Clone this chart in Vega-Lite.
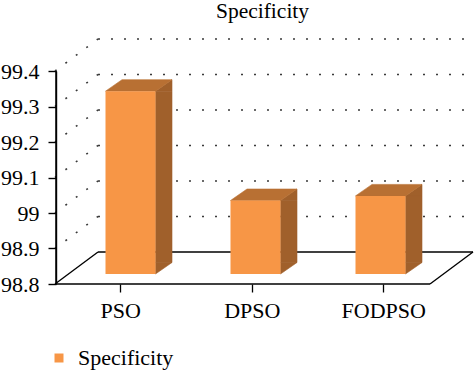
{
  "$schema": "https://vega.github.io/schema/vega-lite/v6.json",
  "width": 375,
  "height": 213,
  "autosize": {"type": "none"},
  "padding": {"left": 55, "top": 71, "right": 44, "bottom": 86},
  "background": "white",
  "title": {"text": "Specificity", "font": "Liberation Serif", "fontSize": 21.5, "fontWeight": "normal", "color": "#000", "anchor": "middle", "frame": "group", "dx": 20, "offset": 16},
  "datasets": {
    "bars": [
      {"method": "PSO", "value": 99.315},
      {"method": "DPSO", "value": 99.007},
      {"method": "FODPSO", "value": 99.02}
    ],
    "levels": [{"v": 98.8}, {"v": 98.9}, {"v": 99}, {"v": 99.1}, {"v": 99.2}, {"v": 99.3}, {"v": 99.4}]
  },
  "config": {
    "view": {"stroke": null},
    "font": "Liberation Serif"
  },
  "resolve": {"scale": {"x": "independent", "y": "independent"}},
  "layer": [
    {
      "layer": [
        {
          "data": {"name": "levels"},
          "transform": [{"filter": "datum.v > 98.85"}],
          "mark": {"type": "rule", "stroke": "#3a3a3a", "strokeWidth": 1.6, "strokeDash": [2, 11], "xOffset": 43, "x2Offset": 43, "yOffset": -32},
          "encoding": {
            "x": {"value": 0}, "x2": {"value": "width"},
            "y": {"field": "v", "type": "quantitative", "axis": null,
              "scale": {"domain": [98.8, 99.4], "nice": false, "zero": false}}
          }
        },
        {
          "data": {"name": "levels"},
          "transform": [{"filter": "datum.v > 98.85"}],
          "mark": {"type": "rule", "stroke": "#3a3a3a", "strokeWidth": 1.6, "strokeDash": [2, 11], "x2Offset": 43, "y2Offset": -32},
          "encoding": {
            "x": {"value": 0}, "x2": {"value": 0},
            "y": {"field": "v", "type": "quantitative", "axis": null}, "y2": {"field": "v"}
          }
        },
        {
          "data": {"name": "levels"},
          "transform": [{"filter": "datum.v < 98.85"}],
          "mark": {"type": "rule", "stroke": "#000", "strokeWidth": 1.4, "xOffset": 43, "x2Offset": 43, "yOffset": -32},
          "encoding": {
            "x": {"value": 0}, "x2": {"value": "width"},
            "y": {"field": "v", "type": "quantitative", "axis": null}
          }
        },
        {
          "data": {"name": "levels"},
          "transform": [{"filter": "datum.v < 98.85"}],
          "mark": {"type": "rule", "stroke": "#000", "strokeWidth": 1.4, "x2Offset": 43, "y2Offset": -32},
          "encoding": {
            "x": {"value": 0}, "x2": {"value": 0},
            "y": {"field": "v", "type": "quantitative", "axis": null}, "y2": {"field": "v"}
          }
        },
        {
          "data": {"name": "levels"},
          "transform": [{"filter": "datum.v < 98.85"}],
          "mark": {"type": "rule", "stroke": "#000", "strokeWidth": 1.4, "x2Offset": 43, "y2Offset": -32},
          "encoding": {
            "x": {"value": "width"}, "x2": {"value": "width"},
            "y": {"field": "v", "type": "quantitative", "axis": null}, "y2": {"field": "v"}
          }
        },
        {
          "data": {"name": "levels"},
          "transform": [{"filter": "datum.v < 98.85"}],
          "mark": {"type": "rule", "stroke": "#000", "strokeWidth": 1.4},
          "encoding": {
            "x": {"value": 0}, "x2": {"value": "width"},
            "y": {"field": "v", "type": "quantitative", "axis": null}
          }
        },
        {
          "data": {"name": "levels"},
          "transform": [{"filter": "datum.v < 98.85"}],
          "mark": {"type": "rule", "stroke": "#000", "strokeWidth": 1.5, "xOffset": 1, "x2Offset": 1},
          "encoding": {
            "x": {"value": 0}, "x2": {"value": 0},
            "y": {"field": "v", "type": "quantitative", "axis": null},
            "y2": {"datum": 99.4}
          }
        },
        {
          "data": {"name": "bars"},
          "mark": {"type": "bar", "width": 16.5, "xOffset": 46.25, "yOffset": -10, "y2Offset": -21.5, "fill": "#A0602B", "stroke": "#A0602B", "strokeWidth": 0.6},
          "encoding": {
            "x": {"field": "method", "type": "nominal", "sort": null, "scale": {"type": "band", "paddingInner": 0, "paddingOuter": 0}, "axis": null},
            "y": {"field": "value", "type": "quantitative", "axis": null},
            "y2": {"datum": 98.8}
          }
        },
        {
          "data": {"name": "bars"},
          "mark": {"type": "point", "shape": "M0,0L16.5,-11.5L16.5,0Z", "size": 4, "filled": true, "opacity": 1, "xOffset": 38, "yOffset": -10, "fill": "#A0602B", "stroke": "#A0602B", "strokeWidth": 0.6},
          "encoding": {
            "x": {"field": "method", "type": "nominal", "sort": null, "axis": null},
            "y": {"field": "value", "type": "quantitative", "axis": null}
          }
        },
        {
          "data": {"name": "bars"},
          "mark": {"type": "point", "shape": "M0,0L0,-11.5L16.5,-11.5Z", "size": 4, "filled": true, "opacity": 1, "xOffset": 38, "yOffset": -10, "fill": "#A0602B", "stroke": "#A0602B", "strokeWidth": 0.6},
          "encoding": {
            "x": {"field": "method", "type": "nominal", "sort": null, "axis": null},
            "y": {"datum": 98.8, "type": "quantitative", "axis": null}
          }
        },
        {
          "data": {"name": "bars"},
          "mark": {"type": "point", "shape": "M-25,0L25,0L41.5,-11.5L-8.5,-11.5Z", "size": 4, "filled": true, "opacity": 1, "xOffset": 13, "yOffset": -10, "fill": "#B87033", "stroke": "#B87033", "strokeWidth": 0.6},
          "encoding": {
            "x": {"field": "method", "type": "nominal", "sort": null, "axis": null},
            "y": {"field": "value", "type": "quantitative", "axis": null}
          }
        },
        {
          "data": {"name": "bars"},
          "mark": {"type": "bar", "width": 50, "xOffset": 13, "yOffset": -10, "y2Offset": -10},
          "encoding": {
            "x": {"field": "method", "type": "nominal", "sort": null, "axis": null},
            "y": {"field": "value", "type": "quantitative", "axis": null},
            "y2": {"datum": 98.8},
            "color": {"datum": "Specificity", "type": "nominal",
              "scale": {"range": ["#F79646"]},
              "legend": {"orient": "none", "legendX": -7, "legendY": 276, "title": null, "symbolType": "square", "symbolSize": 81, "symbolStrokeWidth": 0, "labelFontSize": 22, "labelFont": "Liberation Serif", "labelColor": "#000", "labelOffset": 8, "padding": 0}}
          }
        }
      ]
    },
    {
      "data": {"name": "bars"},
      "mark": {"type": "point", "opacity": 0, "size": 1},
      "encoding": {
        "x": {"field": "method", "type": "nominal", "sort": null,
          "scale": {"type": "band", "range": [0, 394.5], "paddingInner": 0, "paddingOuter": 0},
          "axis": {"orient": "bottom", "title": null, "domain": false, "ticks": true, "tickSize": 8, "tickColor": "#000", "tickWidth": 1.3, "labelFontSize": 22, "labelColor": "#000", "labelFont": "Liberation Serif", "labelPadding": 8, "labelAngle": 0, "grid": false}},
        "y": {"datum": 98.8, "type": "quantitative", "title": null,
          "scale": {"domain": [98.8, 99.4], "nice": false, "zero": false},
          "axis": {"orient": "left", "offset": -1, "title": null, "values": [98.8, 98.9, 99, 99.1, 99.2, 99.3, 99.4], "labelExpr": "format(datum.value, '.3~r')", "grid": false, "domain": true, "domainColor": "#000", "domainWidth": 1.4, "domainOpacity": 1, "ticks": true, "tickColor": "#000", "tickSize": 8, "tickWidth": 1.4, "tickOpacity": 1, "labelFontSize": 22, "labelColor": "#000", "labelFont": "Liberation Serif", "labelPadding": 9, "zindex": 2}}
      }
    }
  ]
}
